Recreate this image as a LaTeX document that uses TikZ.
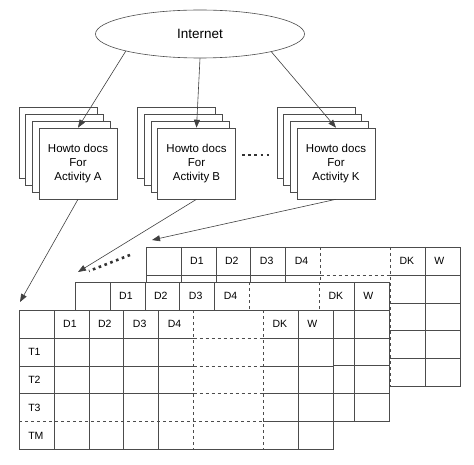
\documentclass[tikz,border=0pt]{standalone}
\usepackage{fontspec}
\setmainfont{Liberation Sans}
\usetikzlibrary{shapes.geometric}
\usetikzlibrary{arrows.meta}

\tikzset{
  cloud/.style={ellipse, draw=black!70, line width=0.6pt, minimum width=209pt, minimum height=48pt, font=\fontsize{13.5}{16}\selectfont},
  docbox/.style={draw=black!70, fill=white, line width=0.6pt, minimum width=78pt, minimum height=71pt, inner sep=0pt, align=center, font=\fontsize{11.5}{14}\selectfont},
  link/.style={draw=black!75, line width=0.6pt, -{Triangle[length=8pt,width=6pt]}},
  more/.style={draw=black!80, line width=2.6pt, dash pattern=on 2.6pt off 3.6pt},
  grid/.style={draw=black!70, line width=0.6pt},
  cell/.style={anchor=west, inner sep=0pt, font=\fontsize{10.5}{12}\selectfont},
}

% one table of docs: #1,#2 = top left corner, #3 = 1 for row labels
\newcommand\doctable[3]{%
  \begin{scope}[shift={(#1pt,-#2pt)}, x=34.9pt, y=-27.9pt]
    \fill[white] (0,0) rectangle (9,5);
    \foreach \c in {1,2,3,4,8} \draw[grid] (\c,0) -- (\c,5);
    \foreach \c in {5,7} \draw[grid,dashed] (\c,0) -- (\c,5);
    \foreach \r in {1,2,3} {
      \draw[grid] (0,\r) -- (5,\r);
      \draw[grid,dashed] (5,\r) -- (7,\r);
      \draw[grid] (7,\r) -- (9,\r);
    }
    \draw[grid,dashed] (0,4) -- (7,4);
    \draw[grid] (7,4) -- (9,4);
    \draw[grid] (0,0) rectangle (9,5);
    \foreach \c/\t in {1/D1,2/D2,3/D3,4/D4,7/DK,8/W}
      \node[cell] at (\c+.26,.5) {\t};
    \ifnum#3=1
      \foreach \r/\t in {1/T1,2/T2,3/T3,4/TM}
        \node[cell] at (.26,\r+.5) {\t};
    \fi
  \end{scope}}

\begin{document}
\begin{tikzpicture}[x=1pt, y=-1pt]
  \useasboundingbox (0,0) rectangle (474,465);

  \node[cloud] (net) at (200,34) {Internet};

  % stacks of howto docs
  \foreach \n/\x/\a in {A/78/A, B/196.5/B, K/336/K} {
    \foreach \k in {3,2,1}
      \node[docbox] (doc\n\k) at (\x-6.7*\k,163.5-7*\k) {};
    \node[docbox] (doc\n) at (\x,163.5) {Howto docs\\For\\Activity \a};
  }
  \draw[more] (242,155) -- (270,155);

  % tables, back to front
  \doctable{146}{247}{0}
  \doctable{75}{282}{0}
  \doctable{19}{310}{1}

  \coordinate (inA) at (20,302);
  \coordinate (inB) at (78,272);
  \coordinate (inK) at (152,240);
  \draw[more] (130,255) -- (89,271);

  \draw[link] (net.193) -- (docA.north);
  \draw[link] (net.south) -- (docB.north);
  \draw[link] (net.-14) -- (docK.north);
  \draw[link] (docA.south) -- (inA);
  \draw[link] (docB.south) -- (inB);
  \draw[link] (docK.south) -- (inK);
\end{tikzpicture}
\end{document}
